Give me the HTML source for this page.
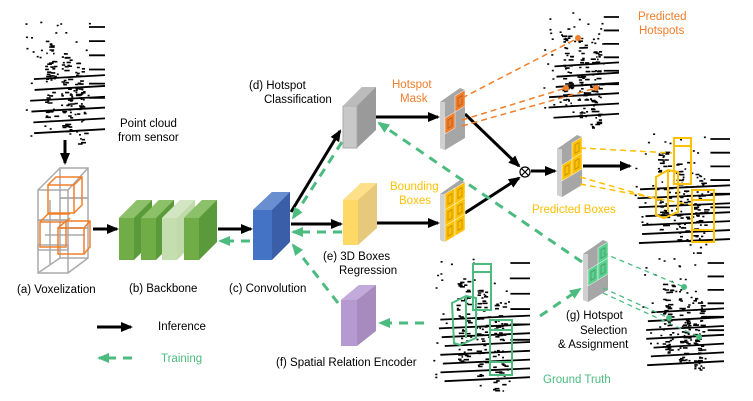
<!DOCTYPE html>
<html><head><meta charset="utf-8">
<style>
html,body{margin:0;padding:0;background:#fff;}
svg{display:block;font-family:"Liberation Sans",sans-serif;}
text{font-size:11.5px;}
</style></head><body>
<svg id="s" width="753" height="401" viewBox="0 0 753 401" xmlns="http://www.w3.org/2000/svg">
<defs>
<marker id="ab" markerWidth="12" markerHeight="12" refX="10" refY="6" orient="auto" markerUnits="userSpaceOnUse"><path d="M0,1 L12,6 L0,11 z" fill="#000"/></marker>
<marker id="ag" markerWidth="12" markerHeight="12" refX="10" refY="6" orient="auto" markerUnits="userSpaceOnUse"><path d="M0,1 L12,6 L0,11 z" fill="#4cbb7f"/></marker>
</defs>
<g id="clouds"></g>

<line x1="65" y1="140" x2="65" y2="163" stroke="#000" stroke-width="3" marker-end="url(#ab)"/>

<g fill="none" stroke="#aaa" stroke-width="1.5">
<rect x="38" y="190" width="30" height="30"/><rect x="38" y="220" width="30" height="30"/><rect x="38" y="245" width="30" height="28"/>
<rect x="60" y="168" width="28" height="30"/><rect x="60" y="198" width="28" height="30"/><rect x="60" y="228" width="28" height="30"/>
<path d="M38,190 L60,168 M68,190 L88,168 M38,273 L60,258 M68,273 L88,258 M50,200 L50,265 M45,235 L85,235"/>
</g>
<g fill="none" stroke="#f07e2a" stroke-width="1.5">
<rect x="48" y="185" width="26" height="28"/><path d="M48,185 L56,177 L82,177 L82,205 L74,213 M74,185 L82,177"/>
<rect x="40" y="222" width="26" height="25"/><path d="M40,222 L48,214 L70,214 M66,222 L70,218"/>
<rect x="58" y="228" width="26" height="26"/><path d="M58,228 L66,221 L90,221 L90,247 L84,254 M84,228 L90,221"/>
</g>

<g stroke="#000" stroke-width="3" fill="none">
<line x1="93" y1="229" x2="117" y2="229" marker-end="url(#ab)"/>
<line x1="218" y1="229" x2="251" y2="229" marker-end="url(#ab)"/>
<line x1="291" y1="212" x2="340" y2="131" marker-end="url(#ab)"/>
<line x1="291" y1="224" x2="341" y2="224" marker-end="url(#ab)"/>
<line x1="376" y1="117" x2="438" y2="117" marker-end="url(#ab)"/>
<line x1="376" y1="223" x2="438" y2="223" marker-end="url(#ab)"/>
<line x1="465" y1="114" x2="519" y2="166" marker-end="url(#ab)"/>
<line x1="465" y1="213" x2="519" y2="178" marker-end="url(#ab)"/>
<line x1="531" y1="171" x2="555" y2="171" marker-end="url(#ab)"/>
<line x1="583" y1="166" x2="630" y2="166" marker-end="url(#ab)"/>
<line x1="97" y1="327" x2="131" y2="327" marker-end="url(#ab)"/>
</g>
<circle cx="525" cy="172" r="5" fill="#fff" stroke="#000" stroke-width="1.2"/>
<path d="M521.5,168.5 L528.5,175.5 M528.5,168.5 L521.5,175.5" stroke="#000" stroke-width="1.2"/>

<g stroke="#4cbb7f" stroke-width="3" fill="none" stroke-dasharray="9,7">
<line x1="250" y1="241" x2="220" y2="241" marker-end="url(#ag)"/>
<line x1="342" y1="142" x2="293" y2="218" marker-end="url(#ag)"/>
<line x1="342" y1="232" x2="293" y2="232" marker-end="url(#ag)"/>
<line x1="338" y1="303" x2="293" y2="245" marker-end="url(#ag)"/>
<line x1="582" y1="262" x2="379" y2="123" marker-end="url(#ag)"/>
<line x1="424" y1="323" x2="380" y2="323" marker-end="url(#ag)"/>
<line x1="540" y1="316" x2="580" y2="289" marker-end="url(#ag)"/>
<line x1="132" y1="358" x2="99" y2="358" marker-end="url(#ag)"/>
</g>

<g id="bb"></g>
<polygon points="253,210 272,192 290,192 290,242 272,260 253,260" fill="#3a5fa8"/>
<rect x="253" y="210" width="19" height="50" fill="#4472c4"/>
<polygon points="253,210 272,192 290,192 272,210" fill="#6a8fd0"/>
<polygon points="343,106 362,87 376,87 376,130 357,148 343,148" fill="#9a9a9a"/>
<rect x="343" y="106" width="14" height="42" fill="#c8c8c8" stroke="#aaa"/>
<polygon points="343,106 362,87 376,87 357,106" fill="#bbb"/>
<polygon points="343,200 361,183 377,183 377,228 358,245 343,245" fill="#e6c97a"/>
<rect x="343" y="200" width="15" height="45" fill="#ffd966"/>
<polygon points="343,200 361,183 377,183 358,200" fill="#ffe08a"/>
<polygon points="341,300 359,285 376,285 376,331 357,346 341,346" fill="#a78bbf"/>
<rect x="341" y="300" width="16" height="46" fill="#b49ad0"/>
<polygon points="341,300 359,285 376,285 357,300" fill="#c2abdb"/>

<g id="panels"></g>

<g stroke="#f07e2a" stroke-width="1.5" stroke-dasharray="6,4" fill="none">
<line x1="462" y1="98" x2="578" y2="38"/>
<line x1="462" y1="120" x2="566" y2="88"/>
<line x1="462" y1="126" x2="596" y2="88"/>
</g>
<g fill="#f07e2a"><circle cx="578" cy="38" r="3"/><circle cx="566" cy="88" r="3"/><circle cx="596" cy="88" r="3"/></g>
<g stroke="#ffc000" stroke-width="1.5" stroke-dasharray="6,4" fill="none">
<line x1="580" y1="148" x2="672" y2="153"/>
<line x1="580" y1="177" x2="660" y2="200"/>
<line x1="580" y1="184" x2="692" y2="205"/>
</g>
<g stroke="#ffc000" stroke-width="2" fill="none">
<rect x="674" y="138" width="17" height="46"/><line x1="674" y1="146" x2="691" y2="146"/>
<polygon points="656,177 668,170 678,172 678,212 664,218 656,215"/><line x1="668" y1="170" x2="668" y2="212"/>
<rect x="692" y="190" width="22" height="52"/><line x1="692" y1="200" x2="714" y2="200"/><line x1="692" y1="230" x2="714" y2="230"/>
</g>
<g stroke="#4cbb7f" stroke-width="2" fill="none">
<rect x="473" y="264" width="18" height="46"/><line x1="473" y1="272" x2="491" y2="272"/>
<polygon points="452,303 466,296 476,298 476,338 460,345 454,343"/><line x1="466" y1="296" x2="466" y2="338"/>
<rect x="490" y="320" width="22" height="55"/><line x1="490" y1="330" x2="512" y2="330"/><line x1="490" y1="362" x2="512" y2="362"/>
</g>
<g stroke="#4cbb7f" stroke-width="1.3" stroke-dasharray="5,4" fill="none">
<line x1="603" y1="253" x2="684" y2="287"/>
<line x1="603" y1="288" x2="669" y2="318"/>
<line x1="603" y1="293" x2="699" y2="337"/>
</g>
<g fill="#4cbb7f"><circle cx="684" cy="287" r="3"/><circle cx="669" cy="318" r="3"/><circle cx="699" cy="337" r="3"/></g>

<g fill="#000">
<text x="120" y="127" font-size="12">Point cloud</text>
<text x="118" y="141" font-size="12">from sensor</text>
<text x="17" y="293">(a) Voxelization</text>
<text x="129" y="292">(b) Backbone</text>
<text x="229" y="292">(c) Convolution</text>
<text x="249" y="89">(d) Hotspot</text>
<text x="264" y="103">Classification</text>
<text x="323" y="260">(e) 3D Boxes</text>
<text x="339" y="274">Regression</text>
<text x="276" y="366">(f) Spatial Relation Encoder</text>
<text x="158" y="330" font-size="9">Inference</text>
<text x="566" y="319">(g) Hotspot</text>
<text x="580" y="334">Selection</text>
<text x="558" y="348">&amp; Assignment</text>
</g>
<g font-size="12">
<text x="392" y="88" fill="#f07e2a">Hotspot</text>
<text x="400" y="102" fill="#f07e2a">Mask</text>
<text x="638" y="20" fill="#f07e2a">Predicted</text>
<text x="639" y="34" fill="#f07e2a">Hotspots</text>
<text x="390" y="190" fill="#ffc000">Bounding</text>
<text x="399" y="204" fill="#ffc000">Boxes</text>
<text x="532" y="213" fill="#ffc000">Predicted Boxes</text>
<text x="543" y="383" fill="#4cbb7f">Ground Truth</text>
</g>
<text x="161" y="362" font-size="9" fill="#4cbb7f">Training</text>
</svg>
<script>
var NS="http://www.w3.org/2000/svg";
function el(p,t,a){var e=document.createElementNS(NS,t);for(var k in a)e.setAttribute(k,a[k]);p.appendChild(e);return e;}
var seed=7;function r(){seed=(seed*9301+49297)%233280;return seed/233280;}
var C=document.getElementById('clouds');
function cloud(x,y,w,h,n){
  var g=el(C,'g',{stroke:'#000',fill:'none','stroke-width':'1.8'});
  var d='';
  for(var i=0;i<n;i++){var yy=y+h*0.45+i*(h*0.55/n);d+='M'+(x+w*0.05+r()*10)+','+(yy+4)+' L'+(x+w)+','+yy+' ';}
  for(var j=0;j<6;j++){var yy=y+5+j*h*0.12;d+='M'+(x+w*0.8)+','+yy+' L'+(x+w)+','+yy+' ';}
  el(g,'path',{d:d});
  var cols=[0.25,0.45,0.62];
  var p='';
  for(var c=0;c<cols.length;c++){for(var k=0;k<45;k++){var xx=x+w*cols[c]+r()*w*0.12;var yy=y+h*(0.15+c*0.1)+r()*h*0.7;p+='M'+xx.toFixed(1)+','+yy.toFixed(1)+' h'+(1.5+r()*4).toFixed(1)+' ';}}
  for(var k=0;k<40;k++){var xx=x+r()*w*0.8,yy=y+r()*h;p+='M'+xx.toFixed(1)+','+yy.toFixed(1)+' h2 ';}
  el(g,'path',{d:p,'stroke-width':'1.6'});
}
cloud(25,22,80,118,6);
cloud(543,12,76,112,6);
cloud(632,134,98,114,7);
cloud(432,258,98,128,8);
cloud(642,258,82,112,7);
var B=document.getElementById('bb');
[119,141,162,184].forEach(function(x,i){
  var light=(i==2);
  el(B,'polygon',{points:(x)+',218 '+(x+18)+',200 '+(x+33)+',200 '+(x+33)+',242 '+(x+15)+',260 '+x+',260',fill:light?'#b5d39e':'#5b9a3a','fill-opacity':light?0.85:1});
  el(B,'rect',{x:x,y:218,width:15,height:42,fill:light?'#c5deb0':'#70ad47'});
  el(B,'polygon',{points:x+',218 '+(x+18)+',200 '+(x+33)+',200 '+(x+15)+',218',fill:light?'#d3e6c4':'#8cc169'});
});
var P=document.getElementById('panels');
function panel(x,y,col,cells){
  el(P,'polygon',{points:x+','+(y+14)+' '+(x+20)+','+y+' '+(x+25)+','+(y+2)+' '+(x+25)+','+(y+50)+' '+(x+5)+','+(y+62)+' '+x+','+(y+60),fill:'#a6a6a6'});
  el(P,'polygon',{points:x+','+(y+14)+' '+(x+5)+','+(y+14)+' '+(x+5)+','+(y+62)+' '+x+','+(y+60),fill:'#d0d0d0'});
  for(var i=0;i<2;i++)for(var j=0;j<3;j++){
    var c=cells[j*2+i]; if(!c)continue;
    var u0=i*0.5,u1=u0+0.5,v0=j/3,v1=v0+1/3;
    function pt(u,v){return (x+5+20*u).toFixed(1)+','+(y+14-12*u+48*v).toFixed(1);}
    el(P,'polygon',{points:[pt(u0,v0),pt(u1,v0),pt(u1,v1),pt(u0,v1)].join(' '),fill:col,stroke:'#fff','stroke-width':'0.5'});
    el(P,'polygon',{points:[pt(u0+0.15,v0+0.08),pt(u1-0.15,v0+0.08),pt(u1-0.15,v1-0.08),pt(u0+0.15,v1-0.08)].join(' '),fill:'none',stroke:'rgba(0,0,0,0.25)','stroke-width':'0.8'});
  }
}
panel(440,88,'#f07e2a',[0,1,1,0,0,0]);
panel(440,180,'#ffc000',[1,1,1,1,1,1]);
panel(557,135,'#ffc000',[0,1,1,1,0,0]);
panel(583,240,'#5cd08f',[0,1,1,1,0,0]);
</script>
</body></html>
